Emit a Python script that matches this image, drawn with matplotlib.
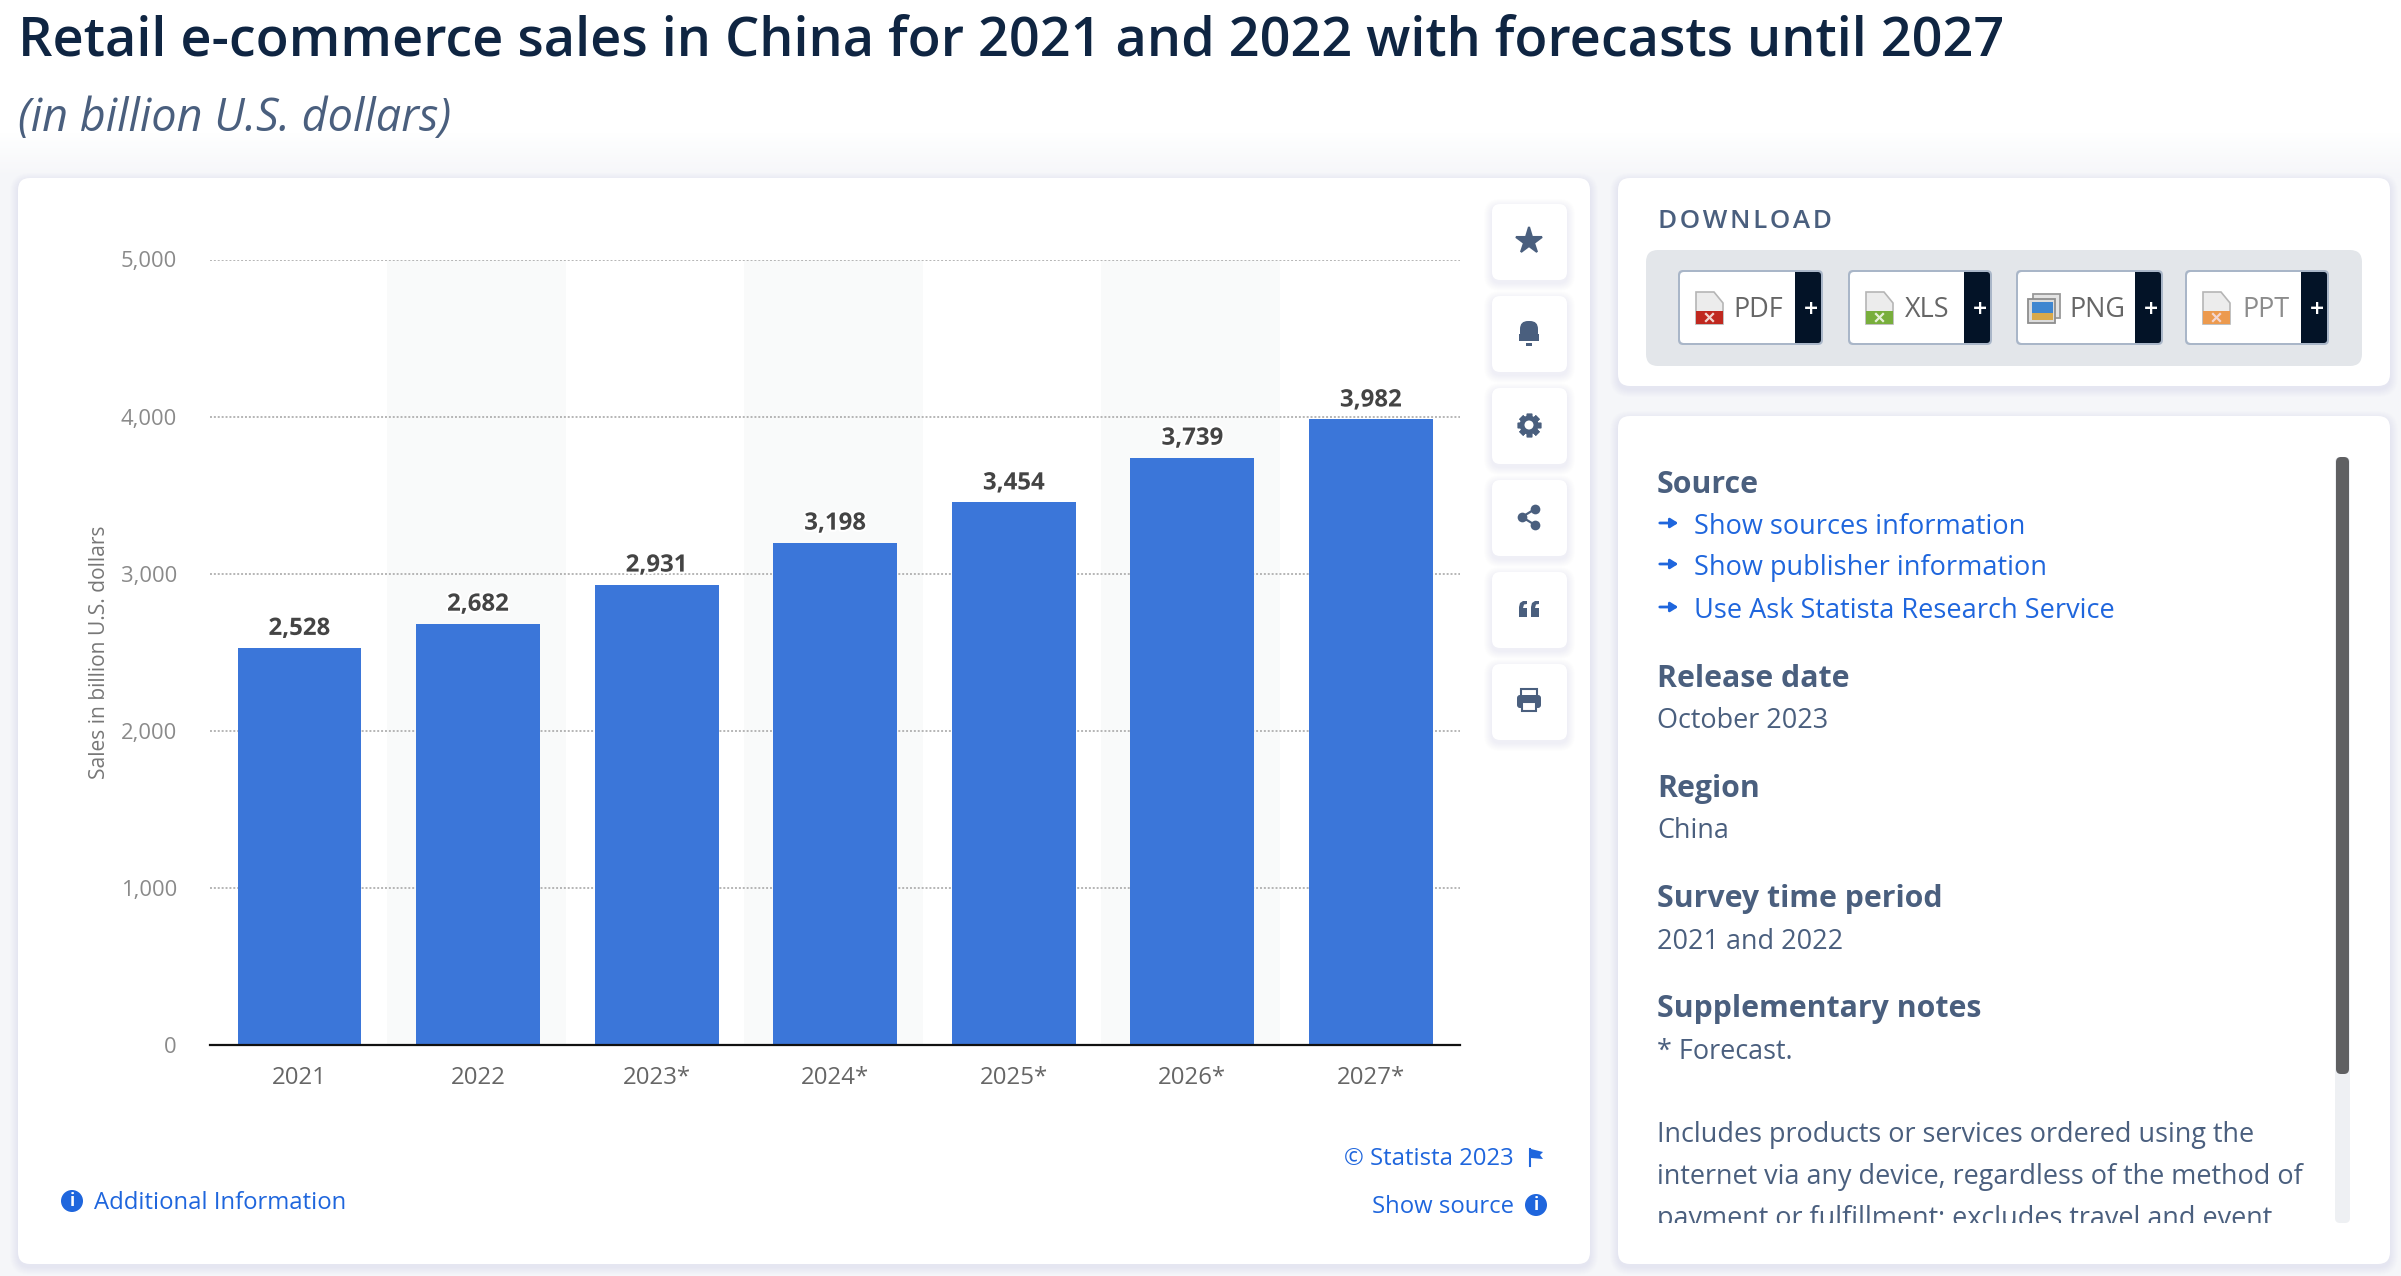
import matplotlib
matplotlib.use('Agg')
import matplotlib.pyplot as plt
import matplotlib.patheffects as pe
import numpy as np
from matplotlib.patches import FancyBboxPatch, Rectangle, Circle, Polygon

plt.rcParams['font.family'] = ['Open Sans', 'DejaVu Sans']

# chart data
years = ['2021', '2022', '2023*', '2024*', '2025*', '2026*', '2027*']
sales = [2528, 2682, 2931, 3198, 3454, 3739, 3982]
y_ticks = [0, 1000, 2000, 3000, 4000, 5000]

# side panel text
links = ['Show sources information', 'Show publisher information', 'Use Ask Statista Research Service']
file_types = ['PDF', 'XLS', 'PNG', 'PPT']
note_lines = ['Includes products or services ordered using the',
              'internet via any device, regardless of the method of',
              'payment or fulfillment; excludes travel and event']

W, H = 2401, 1276
NAVY = '#0f2542'
SLATE = '#4a5f7e'
BLUE = '#1f66dd'
BAR = '#3b76d9'

fig = plt.figure(figsize=(W / 100, H / 100), dpi=100, facecolor='#f5f6f9')

# whole page in pixel coords, for the cards around the chart
bg = fig.add_axes([0, 0, 1, 1], zorder=0)
# white header fading into the page colour
fade = np.linspace(0, 1, 40)[:, None, None]
white = np.array([1.0, 1.0, 1.0])
page = np.array([0xf5, 0xf6, 0xf9]) / 255
bg.imshow(white + fade * (page - white), extent=(0, W, 178, 132), aspect='auto', zorder=0)
bg.add_patch(Rectangle((0, 0), W, 133, fc='white', ec='none', zorder=0))
bg.set_xlim(0, W)
bg.set_ylim(H, 0)
bg.axis('off')


def card(x0, y0, x1, y1, r=12, fc='white', shadow=True, ax=bg):
    if shadow:
        for g in range(1, 9):
            ax.add_patch(FancyBboxPatch((x0 - g, y0 - g + 3), x1 - x0 + 2 * g, y1 - y0 + 2 * g,
                                        boxstyle=f'round,pad=0,rounding_size={r + g}',
                                        fc='#8090a8', ec='none', alpha=0.012))
    ax.add_patch(FancyBboxPatch((x0, y0), x1 - x0, y1 - y0, boxstyle=f'round,pad=0,rounding_size={r}',
                                fc=fc, ec='none'))


def px(size):
    return size * 0.72


bg.text(18, 41, 'Retail e-commerce sales in China for 2021 and 2022 with forecasts until 2027',
        fontsize=px(54), fontweight=600, color=NAVY, va='center')
bg.text(18, 119, '(in billion U.S. dollars)', fontsize=px(45), style='italic', color=SLATE, va='center')

card(18, 178, 1590, 1264)
card(1618, 178, 2390, 386)
card(1618, 416, 2390, 1264)

# toolbar buttons next to the chart
for i in range(6):
    card(1492, 204 + 92 * i, 1567, 280 + 92 * i, r=8)
bx, by = 1529, 241
bg.plot([bx], [by], marker='*', ms=20, color=SLATE, mec=SLATE, mew=1.5)
# bell
by += 92
bg.add_patch(FancyBboxPatch((bx - 9, by - 12), 18, 20, boxstyle='round,pad=0,rounding_size=8', fc=SLATE, ec='none'))
bg.add_patch(Rectangle((bx - 10, by + 1), 20, 7, fc=SLATE, ec='none'))
bg.add_patch(Rectangle((bx - 3, by + 10), 6, 2.5, fc=SLATE, ec='none'))
# gear
by += 92
bg.plot([bx], [by], marker=(8, 2, 0), ms=17, color=SLATE, mew=4)
bg.add_patch(Circle((bx, by), 9.5, fc=SLATE, ec='none', zorder=4))
bg.add_patch(Circle((bx, by), 4.5, fc='white', ec='none', zorder=5))
# share
by += 92
bg.plot([bx + 6, bx - 7, bx + 6], [by - 8, by, by + 8], color=SLATE, lw=1.6, marker='o', ms=7, mew=0)
# quote
by += 92
for qx in [bx - 10, bx + 2]:
    qy = by + 8
    bg.add_patch(Polygon([(qx, qy), (qx, qy - 10), (qx + 1, qy - 14), (qx + 4, qy - 16), (qx + 8, qy - 16),
                          (qx + 8, qy - 13), (qx + 5, qy - 12.5), (qx + 4, qy - 9), (qx + 8, qy - 9), (qx + 8, qy)],
                         fc=SLATE, ec='none'))
# printer
by += 92
bg.add_patch(Rectangle((bx - 8, by - 12), 16, 8, fc='white', ec=SLATE, lw=1.5))
bg.add_patch(FancyBboxPatch((bx - 12, by - 6), 24, 13, boxstyle='round,pad=0,rounding_size=3', fc=SLATE, ec='none'))
bg.add_patch(Rectangle((bx - 7, by + 1), 14, 9, fc='white', ec=SLATE, lw=1.5))

# download box
bg.text(1658, 222, '\u200a'.join('DOWNLOAD'), fontsize=px(26), color=SLATE, va='center', fontweight=600)
card(1646, 250, 2362, 366, r=12, fc='#e3e6ea', shadow=False)
btn_x = [(1678, 1795, 1823), (1848, 1964, 1992), (2016, 2135, 2163), (2185, 2301, 2329)]
icon_col = ['#c0281f', '#78ae3c', '#3f86d0', '#ec9a4e']
txt_col = ['#666666', '#666666', '#666666', '#8c8c8c']
txt_dx = [37, 39, 41, 39]
for (x0, xd, x1), name, ic, tc, dx in zip(btn_x, file_types, icon_col, txt_col, txt_dx):
    card(x0, 270, x1, 345, r=5, fc='#a9b6c8', shadow=False)
    card(x0 + 2, 272, x1 - 2, 343, r=4, fc='white', shadow=False)
    bg.add_patch(FancyBboxPatch((xd, 272), x1 - xd - 2, 71, boxstyle='round,pad=0,rounding_size=3',
                                fc='#031327', ec='none'))
    bg.add_patch(Rectangle((xd, 272), 5, 71, fc='#031327', ec='none'))
    bg.text((xd + x1) / 2 + 2, 310, '+', fontsize=px(25), color='white', ha='center', va='center', fontweight=600)
    ix = x0 + 18 if name != 'PNG' else x0 + 12
    if name == 'PNG':
        bg.add_patch(Rectangle((ix + 5, 294), 27, 24, fc='#e4e4e4', ec='#999999', lw=1.3))
        bg.add_patch(Rectangle((ix, 299), 27, 24, fc='#dcdcdc', ec='#8e8e8e', lw=1.3))
        bg.add_patch(Rectangle((ix + 4, 302), 21, 18, fc=ic, ec='none'))
        bg.add_patch(Rectangle((ix + 4, 313), 21, 7, fc='#d9a94a', ec='none'))
    else:
        bg.add_patch(Polygon([(ix, 292), (ix + 18, 292), (ix + 27, 303), (ix + 27, 324), (ix, 324)],
                             fc='#ececec', ec='#b5b5b5', lw=1.2))
        bg.add_patch(Rectangle((ix, 311), 27, 13, fc=ic, ec='none'))
        bg.plot([ix + 10, ix + 17], [321, 314], color='#f3d6d0' if name != 'XLS' else '#e6f0d8', lw=1.6)
        bg.plot([ix + 10, ix + 17], [314, 321], color='#f3d6d0' if name != 'XLS' else '#e6f0d8', lw=1.6)
    bg.text(ix + dx, 310, name, fontsize=px(27), color=tc, va='center')

# source panel
sec = dict(fontsize=px(30.2), fontweight='bold', color=SLATE, va='center')
body = dict(fontsize=px(27), color=SLATE, va='center')
bg.text(1657, 485, 'Source', **sec)
for yy, s in zip([527, 568, 611], links):
    bg.text(1694, yy, s, fontsize=px(27.1), color=BLUE, va='center')
    bg.annotate('', xy=(1681, yy - 4), xytext=(1657, yy - 4),
                arrowprops=dict(arrowstyle='-|>,head_width=0.28,head_length=0.45', color=BLUE, lw=2))
bg.text(1657, 679, 'Release date', **sec)
bg.text(1657, 721, 'October 2023', **body)
bg.text(1657, 789, 'Region', **sec)
bg.text(1657, 831, 'China', **body)
bg.text(1657, 899, 'Survey time period', **sec)
bg.text(1657, 942, '2021 and 2022', **body)
bg.text(1657, 1009, 'Supplementary notes', **sec)
bg.text(1657, 1052, '* Forecast.', **body)
for yy, s in zip([1135, 1177, 1219], note_lines):
    bg.text(1657, yy, s, **body)
bg.add_patch(Rectangle((1640, 1223), 690, 30, fc='white', ec='none', zorder=5))

card(2335, 457, 2350, 1223, r=5, fc='#eef0f3', shadow=False)
card(2336, 457, 2349, 1074, r=5, fc='#5f6062', shadow=False)

# footer links of chart card
blue_txt = dict(fontsize=px(23.9), color=BLUE, va='center')
bg.text(94, 1203, 'Additional Information', **blue_txt)
bg.text(1514, 1159, '\u00a9 Statista 2023', ha='right', **blue_txt)
bg.text(1514, 1207, 'Show source', ha='right', **blue_txt)
for cx, cy in [(72, 1201), (1536, 1205)]:
    bg.add_patch(Circle((cx, cy), 11, fc=BLUE, ec='none'))
    bg.text(cx, cy, 'i', fontsize=px(17), fontweight='bold', color='white', ha='center', va='center')
bg.plot([1530, 1530], [1149, 1166], color=BLUE, lw=1.5)
bg.add_patch(Polygon([(1531, 1149), (1543, 1152), (1540, 1155), (1543, 1159), (1531, 1158)], fc=BLUE, ec='none'))

# the actual chart
left, right, top, bottom = 210.2, 1460.2, 259.5, 1045
ax = fig.add_axes([left / W, 1 - bottom / H, (right - left) / W, (bottom - top) / H], zorder=1)
ax.patch.set_alpha(0)
for i in range(1, len(years), 2):
    ax.axvspan(i - 0.51, i + 0.49, color='#f9fafa', lw=0, zorder=0)
ax.yaxis.grid(True, linestyle=(0, (1, 1)), color='#b5b5b5', lw=1.4, zorder=1)
ax.set_axisbelow(True)
bars = ax.bar(range(len(years)), sales, width=0.694, color=BAR, zorder=2)
labels = ax.bar_label(bars, labels=[f'{v:,}' for v in sales], padding=5, fontsize=px(24), fontweight='bold', color='#444444')
for t in labels:
    t.set_path_effects([pe.withStroke(linewidth=3, foreground='white')])
ax.set_xlim(-0.5, len(years) - 0.5)
ax.set_ylim(0, 5000)
ax.set_xticks(range(len(years)), years)
ax.set_yticks(y_ticks, [f'{v:,}' for v in y_ticks])
ax.tick_params(axis='x', length=0, pad=15, labelsize=px(24), labelcolor='#666666')
ax.tick_params(axis='y', length=0, pad=24, labelsize=px(22), labelcolor='#8a8a8a')
for s in ['top', 'left', 'right']:
    ax.spines[s].set_visible(False)
ax.spines['bottom'].set_color('#111111')
ax.spines['bottom'].set_linewidth(1.6)
ax.set_ylabel('Sales in billion U.S. dollars', fontsize=px(21), color='#777777')
ax.yaxis.set_label_coords((110 - left) / (right - left), 0.5)

fig.savefig('out.png', dpi=100, facecolor=fig.get_facecolor())
